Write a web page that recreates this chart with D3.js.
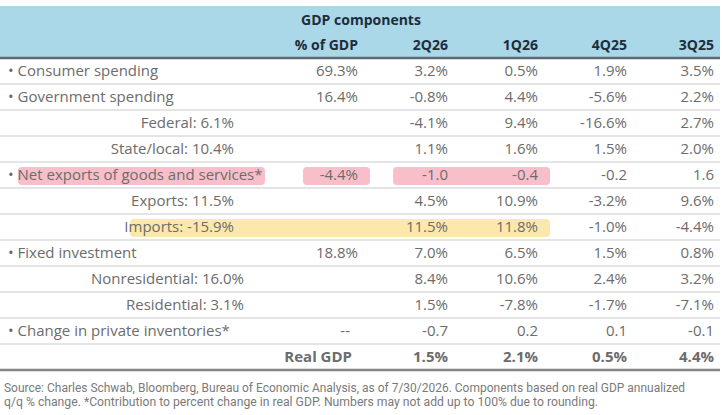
<!DOCTYPE html>
<html>
<head>
<meta charset="utf-8">
<script src="https://cdn.jsdelivr.net/npm/d3@7"></script>
<style>
  body { margin: 0; background: #fff; }
  svg { display: block; }
</style>
</head>
<body>
<div id="chart"></div>
<script>
/* GDP components table */

const title = "GDP components";
const columns = ["% of GDP", "2Q26", "1Q26", "4Q25", "3Q25"];
const labels = [
  "• Consumer spending",
  "• Government spending",
  "Federal: 6.1%",
  "State/local: 10.4%",
  "• Net exports of goods and services*",
  "Exports: 11.5%",
  "Imports: -15.9%",
  "• Fixed investment",
  "Nonresidential: 16.0%",
  "Residential: 3.1%",
  "• Change in private inventories*",
  "Real GDP"
];
// row kind: top-level, sub-item, total
const kinds = ["top", "top", "sub", "sub", "top", "sub", "sub", "top", "sub2", "sub2", "top", "total"];
const shareOfGdp = ["69.3%", "16.4%", "", "", "-4.4%", "", "", "18.8%", "", "", "--", ""];
const q2_26 = ["3.2%", "-0.8%", "-4.1%", "1.1%", "-1.0", "4.5%", "11.5%", "7.0%", "8.4%", "1.5%", "-0.7", "1.5%"];
const q1_26 = ["0.5%", "4.4%", "9.4%", "1.6%", "-0.4", "10.9%", "11.8%", "6.5%", "10.6%", "-7.8%", "0.2", "2.1%"];
const q4_25 = ["1.9%", "-5.6%", "-16.6%", "1.5%", "-0.2", "-3.2%", "-1.0%", "1.5%", "2.4%", "-1.7%", "0.1", "0.5%"];
const q3_25 = ["3.5%", "2.2%", "2.7%", "2.0%", "1.6", "9.6%", "-4.4%", "0.8%", "3.2%", "-7.1%", "-0.1", "4.4%"];
const valueCols = [shareOfGdp, q2_26, q1_26, q4_25, q3_25];

// hand-drawn marker highlights: row, first column, last column
const highlights = [
  { row: 4, from: "label", to: "label", color: "#f6a9b8" },
  { row: 4, from: "% of GDP", to: "% of GDP", color: "#f6a9b8" },
  { row: 4, from: "2Q26", to: "1Q26", color: "#f6a9b8" },
  { row: 6, from: "label", to: "1Q26", color: "#fbe08e" }
];

const footnote = [
  "Source: Charles Schwab, Bloomberg, Bureau of Economic Analysis, as of 7/30/2026. Components based on real GDP annualized",
  "q/q % change. *Contribution to percent change in real GDP. Numbers may not add up to 100% due to rounding."
];

const width = 722, height = 415;
const headTop = 6, headLine = 58, rowH = 26;
const font = "'Open Sans', sans-serif";

let svg = d3.select("#chart")
  .append("svg")
  .attr("width", width)
  .attr("height", height)
  .attr("viewBox", [0, 0, width, height]);

/* right edges of the value columns */
let x = d3.scaleOrdinal()
  .domain(columns)
  .range([358, 448, 538, 627, 714]);

/* rows */
let y = d3.scaleBand()
  .domain(d3.range(labels.length))
  .range([headLine, headLine + rowH * labels.length]);

/* header band */
svg.append("rect")
  .attr("x", 0).attr("y", headTop)
  .attr("width", 720).attr("height", headLine - headTop)
  .attr("fill", "#aad8e8");

svg.append("text")
  .attr("x", 361).attr("y", 25)
  .attr("text-anchor", "middle")
  .attr("font-family", font).attr("font-size", 14).attr("font-weight", 700)
  .attr("fill", "#1d2d3c")
  .text(title);

svg.append("g").selectAll("text")
  .data(columns)
  .join("text")
  .attr("x", d => x(d))
  .attr("y", 50)
  .attr("text-anchor", "end")
  .attr("font-family", font).attr("font-size", 14).attr("font-weight", 700)
  .attr("fill", "#1d2d3c")
  .text(d => d);

/* highlights go under the text */
let hx = (c, row) => c === "label" ? (row === 6 ? [130, 265] : [18, 265]) : [x(c) - 55, x(c) + 12];
svg.append("g").selectAll("rect")
  .data(highlights)
  .join("rect")
  .attr("x", d => hx(d.from, d.row)[0])
  .attr("width", d => hx(d.to, d.row)[1] - hx(d.from, d.row)[0])
  .attr("y", d => y(d.row) + 5)
  .attr("height", rowH - 8)
  .attr("rx", 4)
  .attr("fill", d => d.color)
  .attr("opacity", 0.75);

/* row dividers */
svg.append("g").selectAll("line")
  .data(d3.range(1, labels.length))
  .join("line")
  .attr("x1", 0).attr("x2", 720)
  .attr("y1", d => y(d)).attr("y2", d => y(d))
  .attr("stroke", "#c9c9c9").attr("stroke-width", 1);

svg.append("line")
  .attr("x1", 0).attr("x2", 720)
  .attr("y1", headLine).attr("y2", headLine)
  .attr("stroke", "#5b6a72").attr("stroke-width", 2.5);

svg.append("line")
  .attr("x1", 0).attr("x2", 720)
  .attr("y1", y(labels.length - 1) + rowH).attr("y2", y(labels.length - 1) + rowH)
  .attr("stroke", "#858585").attr("stroke-width", 2.5);

/* row labels */
let labelX = k => k === "top" ? 8 : k === "sub" ? 234 : k === "sub2" ? 244 : 352;
svg.append("g").selectAll("text")
  .data(labels)
  .join("text")
  .attr("x", (d, i) => labelX(kinds[i]))
  .attr("y", (d, i) => y(i) + rowH / 2 + 5)
  .attr("text-anchor", (d, i) => kinds[i] === "top" ? "start" : "end")
  .attr("font-family", font).attr("font-size", 15)
  .attr("font-weight", (d, i) => kinds[i] === "total" ? 700 : 400)
  .attr("fill", "#6c6c6c")
  .text(d => d);

/* values */
columns.forEach((c, ci) => {
  svg.append("g").selectAll("text")
    .data(valueCols[ci])
    .join("text")
    .attr("x", d => d === "--" ? x(c) - 8 : x(c))
    .attr("y", (d, i) => y(i) + rowH / 2 + 5)
    .attr("text-anchor", "end")
    .attr("font-family", font).attr("font-size", 15)
    .attr("font-weight", (d, i) => kinds[i] === "total" ? 700 : 400)
    .attr("fill", "#6c6c6c")
    .text(d => d);
});

/* footnote */
svg.append("g").selectAll("text")
  .data(footnote)
  .join("text")
  .attr("x", 4)
  .attr("y", (d, i) => 392 + i * 14)
  .attr("font-family", "'Roboto', sans-serif")
  .attr("font-size", 12)
  .attr("textLength", (d, i) => i === 0 ? 681 : 594)
  .attr("lengthAdjust", "spacingAndGlyphs")
  .attr("fill", "#7a7a7a")
  .text(d => d);
</script>
</body>
</html>
